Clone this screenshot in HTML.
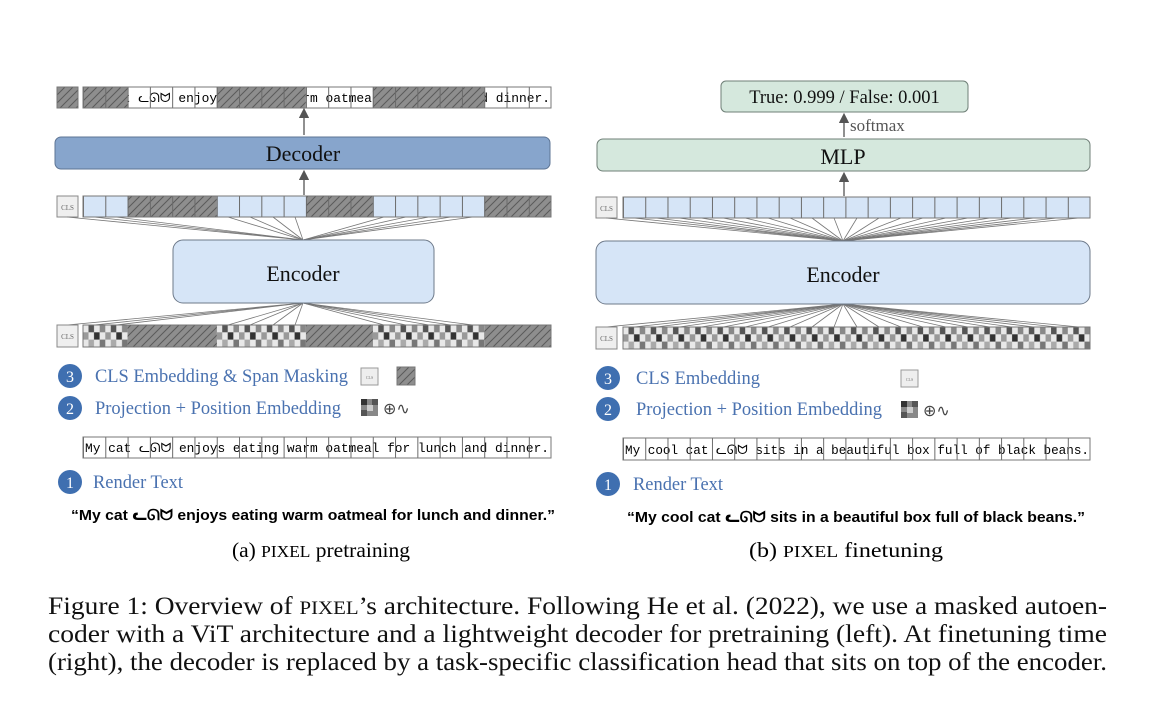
<!DOCTYPE html>
<html><head><meta charset="utf-8"><style>html,body{margin:0;padding:0;background:#fff}svg{display:block}</style></head>
<body>
<svg width="1156" height="712" viewBox="0 0 1156 712" xmlns="http://www.w3.org/2000/svg">
<defs>
<pattern id="hatch" patternUnits="userSpaceOnUse" width="8" height="8">
<rect width="8" height="8" fill="#8e8e8e"/>
<path d="M-2,2 L2,-2 M0,8 L8,0 M6,10 L10,6" stroke="#5a5a5a" stroke-width="1"/>
</pattern>
<pattern id="gridL" patternUnits="userSpaceOnUse" x="83" y="0" width="22.29" height="50">
<line x1="0.5" y1="0" x2="0.5" y2="50" stroke="#6a6a6a" stroke-width="1"/>
</pattern>
<pattern id="gridR" patternUnits="userSpaceOnUse" x="623" y="0" width="22.24" height="50">
<line x1="0.5" y1="0" x2="0.5" y2="50" stroke="#6a6a6a" stroke-width="1"/>
</pattern>
<pattern id="chkL" patternUnits="userSpaceOnUse" x="83" y="325" width="22.29" height="22">
<rect width="22.29" height="22" fill="#e8e8e8"/>
<rect x="5.5" y="0" width="5.5" height="7.3" fill="#555"/><rect x="16.7" y="0" width="5.6" height="7.3" fill="#888"/>
<rect x="0" y="7.3" width="5.5" height="7.3" fill="#999"/><rect x="11" y="7.3" width="5.6" height="7.3" fill="#333"/>
<rect x="5.5" y="14.6" width="5.5" height="7.4" fill="#aaa"/><rect x="16.7" y="14.6" width="5.6" height="7.4" fill="#777"/>
</pattern>
<pattern id="chkR" patternUnits="userSpaceOnUse" x="623" y="327" width="22.24" height="22">
<rect width="22.24" height="22" fill="#e8e8e8"/>
<rect x="5.5" y="0" width="5.5" height="7.3" fill="#555"/><rect x="16.7" y="0" width="5.6" height="7.3" fill="#888"/>
<rect x="0" y="7.3" width="5.5" height="7.3" fill="#999"/><rect x="11" y="7.3" width="5.6" height="7.3" fill="#333"/>
<rect x="5.5" y="14.6" width="5.5" height="7.4" fill="#aaa"/><rect x="16.7" y="14.6" width="5.6" height="7.4" fill="#777"/>
</pattern>
<marker id="arr" markerWidth="8" markerHeight="8" refX="4" refY="4" orient="auto"><path d="M0,0 L8,4 L0,8 z" fill="#555"/></marker>
</defs>

<!-- ========== LEFT ========== -->
<rect x="83" y="87" width="468" height="21" fill="#fff"/>
<text x="84" y="102" font-family="Liberation Mono, DejaVu Sans Mono, monospace" font-size="13" textLength="466" lengthAdjust="spacingAndGlyphs">My cat ᓚᘏᗢ enjoys eating warm oatmeal for lunch and dinner.</text>
<rect x="57" y="87" width="21" height="21" fill="url(#hatch)" stroke="#777"/>
<rect x="83" y="87" width="44.6" height="21" fill="url(#hatch)"/>
<rect x="216.7" y="87" width="89.2" height="21" fill="url(#hatch)"/>
<rect x="372.8" y="87" width="111.5" height="21" fill="url(#hatch)"/>
<rect x="83" y="87" width="468" height="21" fill="url(#gridL)" stroke="#777"/>
<line x1="304" y1="135" x2="304" y2="113" stroke="#555" stroke-width="1.3" marker-end="url(#arr)"/>
<rect x="55" y="137" width="495" height="32" rx="6" fill="#87a5cc" stroke="#5e7595"/>
<text x="303" y="161" text-anchor="middle" font-family="Liberation Serif, serif" font-size="22" fill="#111">Decoder</text>
<line x1="304" y1="195" x2="304" y2="175" stroke="#555" stroke-width="1.3" marker-end="url(#arr)"/>
<rect x="57" y="196" width="21" height="21" fill="#efefef" stroke="#888"/>
<text x="67.5" y="210" text-anchor="middle" font-family="Liberation Serif, serif" font-size="7" fill="#666">CLS</text>
<rect x="83" y="196" width="468" height="21" fill="#d6e5f7"/>
<rect x="127.6" y="196" width="89.2" height="21" fill="url(#hatch)"/>
<rect x="306" y="196" width="66.9" height="21" fill="url(#hatch)"/>
<rect x="484.3" y="196" width="66.7" height="21" fill="url(#hatch)"/>
<rect x="83" y="196" width="468" height="21" fill="url(#gridL)" stroke="#777"/>
<g stroke="#777" stroke-width="0.8">
<line x1="303" y1="240" x2="67" y2="217"/><line x1="303" y1="240" x2="94" y2="217"/><line x1="303" y1="240" x2="116" y2="217"/>
<line x1="303" y1="240" x2="228" y2="217"/><line x1="303" y1="240" x2="250" y2="217"/><line x1="303" y1="240" x2="273" y2="217"/><line x1="303" y1="240" x2="295" y2="217"/>
<line x1="303" y1="240" x2="384" y2="217"/><line x1="303" y1="240" x2="406" y2="217"/><line x1="303" y1="240" x2="429" y2="217"/><line x1="303" y1="240" x2="451" y2="217"/><line x1="303" y1="240" x2="473" y2="217"/>
<line x1="303" y1="303" x2="67" y2="325"/><line x1="303" y1="303" x2="94" y2="325"/><line x1="303" y1="303" x2="116" y2="325"/>
<line x1="303" y1="303" x2="228" y2="325"/><line x1="303" y1="303" x2="250" y2="325"/><line x1="303" y1="303" x2="273" y2="325"/><line x1="303" y1="303" x2="295" y2="325"/>
<line x1="303" y1="303" x2="384" y2="325"/><line x1="303" y1="303" x2="406" y2="325"/><line x1="303" y1="303" x2="429" y2="325"/><line x1="303" y1="303" x2="451" y2="325"/><line x1="303" y1="303" x2="473" y2="325"/>
</g>
<rect x="173" y="240" width="261" height="63" rx="10" fill="#d6e5f7" stroke="#6e7a8a"/>
<text x="303" y="281" text-anchor="middle" font-family="Liberation Serif, serif" font-size="22" fill="#111">Encoder</text>
<rect x="57" y="325" width="21" height="22" fill="#efefef" stroke="#888"/>
<text x="67.5" y="339" text-anchor="middle" font-family="Liberation Serif, serif" font-size="7" fill="#666">CLS</text>
<rect x="83" y="325" width="468" height="22" fill="url(#chkL)"/>
<rect x="127.6" y="325" width="89.2" height="22" fill="url(#hatch)"/>
<rect x="306" y="325" width="66.9" height="22" fill="url(#hatch)"/>
<rect x="484.3" y="325" width="66.7" height="22" fill="url(#hatch)"/>
<rect x="83" y="325" width="468" height="22" fill="none" stroke="#777"/>
<g font-family="Liberation Serif, serif" font-size="18.5" fill="#4a72b0">
<circle cx="70" cy="376" r="12" fill="#3f6fb0"/><text x="70" y="382" text-anchor="middle" fill="#fff" font-size="16">3</text>
<text x="95" y="382" textLength="253" lengthAdjust="spacingAndGlyphs">CLS Embedding &amp; Span Masking</text>
<circle cx="70" cy="408" r="12" fill="#3f6fb0"/><text x="70" y="414" text-anchor="middle" fill="#fff" font-size="16">2</text>
<text x="95" y="414" textLength="246" lengthAdjust="spacingAndGlyphs">Projection + Position Embedding</text>
<circle cx="70" cy="482" r="12" fill="#3f6fb0"/><text x="70" y="488" text-anchor="middle" fill="#fff" font-size="16">1</text>
<text x="93" y="488" textLength="90" lengthAdjust="spacingAndGlyphs">Render Text</text>
</g>
<rect x="361" y="368" width="17" height="17" fill="#eee" stroke="#999"/>
<text x="369.5" y="379" text-anchor="middle" font-family="Liberation Serif, serif" font-size="4" fill="#777">CLS</text>
<rect x="397" y="367" width="18" height="18" fill="url(#hatch)" stroke="#777"/>
<rect x="361" y="399" width="17" height="17" fill="#888"/><rect x="361" y="399" width="6" height="6" fill="#333"/><rect x="367" y="405" width="6" height="6" fill="#ccc"/><rect x="372" y="399" width="6" height="6" fill="#555"/><rect x="361" y="410" width="6" height="6" fill="#555"/>
<text x="383" y="414" font-family="DejaVu Sans, sans-serif" font-size="16" fill="#444">⊕∿</text>
<rect x="83" y="437" width="468" height="21" fill="#fff"/>
<text x="85" y="452" font-family="Liberation Mono, DejaVu Sans Mono, monospace" font-size="13" textLength="464" lengthAdjust="spacingAndGlyphs">My cat ᓚᘏᗢ enjoys eating warm oatmeal for lunch and dinner.</text>
<rect x="83" y="437" width="468" height="21" fill="url(#gridL)" stroke="#777"/>
<text x="313" y="520" text-anchor="middle" font-family="Liberation Sans, DejaVu Sans, sans-serif" font-weight="bold" font-size="15" textLength="484" lengthAdjust="spacingAndGlyphs">“My cat ᓚᘏᗢ enjoys eating warm oatmeal for lunch and dinner.”</text>
<text x="321" y="557" text-anchor="middle" font-family="Liberation Serif, serif" font-size="21" textLength="178" lengthAdjust="spacingAndGlyphs">(a) <tspan font-size="17">PIXEL</tspan> pretraining</text>

<!-- ========== RIGHT ========== -->
<rect x="721" y="81" width="247" height="31" rx="5" fill="#d5e8dd" stroke="#6f7f77"/>
<text x="844.5" y="103" text-anchor="middle" font-family="Liberation Serif, serif" font-size="18.5" fill="#111">True: 0.999 / False: 0.001</text>
<line x1="844" y1="137" x2="844" y2="118" stroke="#555" stroke-width="1.3" marker-end="url(#arr)"/>
<text x="850" y="131" font-family="Liberation Serif, serif" font-size="17" fill="#555">softmax</text>
<rect x="597" y="139" width="493" height="32" rx="6" fill="#d5e8dd" stroke="#6f7f77"/>
<text x="843" y="164" text-anchor="middle" font-family="Liberation Serif, serif" font-size="22" fill="#111">MLP</text>
<line x1="844" y1="196" x2="844" y2="177" stroke="#555" stroke-width="1.3" marker-end="url(#arr)"/>
<rect x="596" y="197" width="21" height="21" fill="#efefef" stroke="#888"/>
<text x="606.5" y="211" text-anchor="middle" font-family="Liberation Serif, serif" font-size="7" fill="#666">CLS</text>
<rect x="623" y="197" width="467" height="21" fill="#d6e5f7"/>
<rect x="623" y="197" width="467" height="21" fill="url(#gridR)" stroke="#777"/>
<g stroke="#777" stroke-width="0.8">
<line x1="843" y1="241" x2="606" y2="218"/><line x1="843" y1="241" x2="634" y2="218"/><line x1="843" y1="241" x2="656" y2="218"/><line x1="843" y1="241" x2="679" y2="218"/><line x1="843" y1="241" x2="701" y2="218"/><line x1="843" y1="241" x2="723" y2="218"/><line x1="843" y1="241" x2="745" y2="218"/><line x1="843" y1="241" x2="768" y2="218"/><line x1="843" y1="241" x2="790" y2="218"/><line x1="843" y1="241" x2="812" y2="218"/><line x1="843" y1="241" x2="834" y2="218"/><line x1="843" y1="241" x2="857" y2="218"/><line x1="843" y1="241" x2="879" y2="218"/><line x1="843" y1="241" x2="901" y2="218"/><line x1="843" y1="241" x2="923" y2="218"/><line x1="843" y1="241" x2="946" y2="218"/><line x1="843" y1="241" x2="968" y2="218"/><line x1="843" y1="241" x2="990" y2="218"/><line x1="843" y1="241" x2="1012" y2="218"/><line x1="843" y1="241" x2="1034" y2="218"/><line x1="843" y1="241" x2="1057" y2="218"/><line x1="843" y1="241" x2="1079" y2="218"/>
<line x1="843" y1="304" x2="606" y2="327"/><line x1="843" y1="304" x2="634" y2="327"/><line x1="843" y1="304" x2="656" y2="327"/><line x1="843" y1="304" x2="679" y2="327"/><line x1="843" y1="304" x2="701" y2="327"/><line x1="843" y1="304" x2="723" y2="327"/><line x1="843" y1="304" x2="745" y2="327"/><line x1="843" y1="304" x2="768" y2="327"/><line x1="843" y1="304" x2="790" y2="327"/><line x1="843" y1="304" x2="812" y2="327"/><line x1="843" y1="304" x2="834" y2="327"/><line x1="843" y1="304" x2="857" y2="327"/><line x1="843" y1="304" x2="879" y2="327"/><line x1="843" y1="304" x2="901" y2="327"/><line x1="843" y1="304" x2="923" y2="327"/><line x1="843" y1="304" x2="946" y2="327"/><line x1="843" y1="304" x2="968" y2="327"/><line x1="843" y1="304" x2="990" y2="327"/><line x1="843" y1="304" x2="1012" y2="327"/><line x1="843" y1="304" x2="1034" y2="327"/><line x1="843" y1="304" x2="1057" y2="327"/><line x1="843" y1="304" x2="1079" y2="327"/>
</g>
<rect x="596" y="241" width="494" height="63" rx="10" fill="#d6e5f7" stroke="#6e7a8a"/>
<text x="843" y="282" text-anchor="middle" font-family="Liberation Serif, serif" font-size="22" fill="#111">Encoder</text>
<rect x="596" y="327" width="21" height="22" fill="#efefef" stroke="#888"/>
<text x="606.5" y="341" text-anchor="middle" font-family="Liberation Serif, serif" font-size="7" fill="#666">CLS</text>
<rect x="623" y="327" width="467" height="22" fill="url(#chkR)" stroke="#777"/>
<g font-family="Liberation Serif, serif" font-size="18.5" fill="#4a72b0">
<circle cx="608" cy="378" r="12" fill="#3f6fb0"/><text x="608" y="384" text-anchor="middle" fill="#fff" font-size="16">3</text>
<text x="636" y="384" textLength="124" lengthAdjust="spacingAndGlyphs">CLS Embedding</text>
<circle cx="608" cy="409" r="12" fill="#3f6fb0"/><text x="608" y="415" text-anchor="middle" fill="#fff" font-size="16">2</text>
<text x="636" y="415" textLength="246" lengthAdjust="spacingAndGlyphs">Projection + Position Embedding</text>
<circle cx="608" cy="484" r="12" fill="#3f6fb0"/><text x="608" y="490" text-anchor="middle" fill="#fff" font-size="16">1</text>
<text x="633" y="490" textLength="90" lengthAdjust="spacingAndGlyphs">Render Text</text>
</g>
<rect x="901" y="370" width="17" height="17" fill="#eee" stroke="#999"/>
<text x="909.5" y="381" text-anchor="middle" font-family="Liberation Serif, serif" font-size="4" fill="#777">CLS</text>
<rect x="901" y="401" width="17" height="17" fill="#888"/><rect x="901" y="401" width="6" height="6" fill="#333"/><rect x="907" y="407" width="6" height="6" fill="#ccc"/><rect x="912" y="401" width="6" height="6" fill="#555"/><rect x="901" y="412" width="6" height="6" fill="#555"/>
<text x="923" y="416" font-family="DejaVu Sans, sans-serif" font-size="16" fill="#444">⊕∿</text>
<rect x="623" y="438" width="467" height="22" fill="#fff"/>
<text x="625" y="454" font-family="Liberation Mono, DejaVu Sans Mono, monospace" font-size="13" textLength="464" lengthAdjust="spacingAndGlyphs">My cool cat ᓚᘏᗢ sits in a beautiful box full of black beans.</text>
<rect x="623" y="438" width="467" height="22" fill="url(#gridR)" stroke="#777"/>
<text x="856" y="522" text-anchor="middle" font-family="Liberation Sans, DejaVu Sans, sans-serif" font-weight="bold" font-size="15" textLength="458" lengthAdjust="spacingAndGlyphs">“My cool cat ᓚᘏᗢ sits in a beautiful box full of black beans.”</text>
<text x="846" y="557" text-anchor="middle" font-family="Liberation Serif, serif" font-size="21" textLength="194" lengthAdjust="spacingAndGlyphs">(b) <tspan font-size="17">PIXEL</tspan> finetuning</text>

<!-- caption -->
<g font-family="Liberation Serif, serif" font-size="25" fill="#111">
<text x="48" y="614" textLength="1059" lengthAdjust="spacingAndGlyphs">Figure 1: Overview of <tspan font-size="19">PIXEL</tspan>’s architecture. Following He et al. (2022), we use a masked autoen-</text>
<text x="48" y="642" textLength="1059" lengthAdjust="spacingAndGlyphs">coder with a ViT architecture and a lightweight decoder for pretraining (left).  At finetuning time</text>
<text x="48" y="670" textLength="1059" lengthAdjust="spacingAndGlyphs">(right), the decoder is replaced by a task-specific classification head that sits on top of the encoder.</text>
</g>
</svg>
</body></html>
